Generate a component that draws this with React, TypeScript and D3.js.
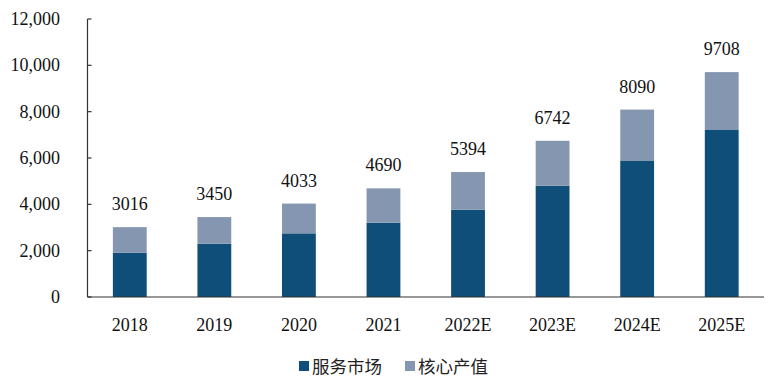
import React, { useRef, useEffect } from 'react';
import * as d3 from 'd3';

const years = ['2018', '2019', '2020', '2021', '2022E', '2023E', '2024E', '2025E'];
const serviceMarket = [1912, 2301, 2748, 3209, 3770, 4806, 5870, 7209];
const totals = [3016, 3450, 4033, 4690, 5394, 6742, 8090, 9708];
const seriesNames = ['服务市场', '核心产值'];
const yTicks = [0, 2000, 4000, 6000, 8000, 10000, 12000];

const colors = ['#0f4e78', '#8597b0'];

export default function App() {
    const svgRef = useRef<SVGSVGElement | null>(null);

    useEffect(() => {
        const width = 777;
        const height = 387;
        const margin = { top: 19, right: 13, bottom: 90, left: 87.5 };

        d3.select(svgRef.current).selectAll('*').remove();

        const svg = d3
            .select(svgRef.current)
            .attr('width', width)
            .attr('height', height);

        const x = d3
            .scaleBand()
            .domain(years)
            .range([margin.left, width - margin.right])
            .paddingInner(0.6)
            .paddingOuter(0.3);

        const y = d3
            .scaleLinear()
            .domain([0, 12000])
            .range([height - margin.bottom, margin.top]);

        const rows = years.map((yr, i) => ({
            year: yr,
            s: serviceMarket[i],
            c: totals[i] - serviceMarket[i],
            total: totals[i],
        }));

        const stacked = d3.stack<any>().keys(['s', 'c'])(rows);

        stacked.forEach((layer, li) => {
            svg.append('g')
                .selectAll('rect')
                .data(layer)
                .enter()
                .append('rect')
                .attr('x', (d: any) => x(d.data.year)!)
                .attr('width', x.bandwidth())
                .attr('y', (d) => y(d[1]))
                .attr('height', (d) => y(d[0]) - y(d[1]))
                .attr('fill', colors[li]);
        });

        rows.forEach((d) => {
            svg.append('text')
                .attr('x', x(d.year)! + x.bandwidth() / 2)
                .attr('y', y(d.total) - 17)
                .attr('text-anchor', 'middle')
                .text(String(d.total))
                .attr('fill', '#111')
                .attr('font-family', 'Liberation Serif')
                .attr('font-size', 18);

            svg.append('text')
                .attr('x', x(d.year)! + x.bandwidth() / 2)
                .attr('y', y(0) + 34)
                .attr('text-anchor', 'middle')
                .text(d.year)
                .attr('fill', '#111')
                .attr('font-family', 'Liberation Serif')
                .attr('font-size', 18);
        });

        // y axis
        svg.append('line')
            .attr('x1', margin.left)
            .attr('x2', margin.left)
            .attr('y1', y(12000))
            .attr('y2', y(0))
            .attr('stroke', '#333')
            .attr('stroke-width', 1.2);

        yTicks.forEach((t) => {
            svg.append('line')
                .attr('x1', margin.left)
                .attr('x2', margin.left + 4)
                .attr('y1', y(t))
                .attr('y2', y(t))
                .attr('stroke', '#333')
                .attr('stroke-width', 1.2);

            svg.append('text')
                .attr('x', 60)
                .attr('y', y(t) + 6)
                .attr('text-anchor', 'end')
                .text(d3.format(',')(t))
                .attr('fill', '#111')
                .attr('font-family', 'Liberation Serif')
                .attr('font-size', 18);
        });

        // x axis
        svg.append('line')
            .attr('x1', margin.left)
            .attr('x2', width - margin.right)
            .attr('y1', y(0))
            .attr('y2', y(0))
            .attr('stroke', '#333')
            .attr('stroke-width', 1.2);

        // legend
        const legendX = [299, 405];
        seriesNames.forEach((name, i) => {
            svg.append('rect')
                .attr('x', legendX[i])
                .attr('y', 361)
                .attr('width', 10)
                .attr('height', 10)
                .attr('fill', colors[i]);

            svg.append('text')
                .attr('x', legendX[i] + 13)
                .attr('y', 373)
                .text(name)
                .attr('fill', '#222')
                .attr('font-family', 'Noto Sans CJK SC')
                .attr('font-size', 17.5);
        });
    }, []);

    return (
        <div style={{ margin: -8 }}>
            <svg ref={svgRef}></svg>
        </div>
    );
}
